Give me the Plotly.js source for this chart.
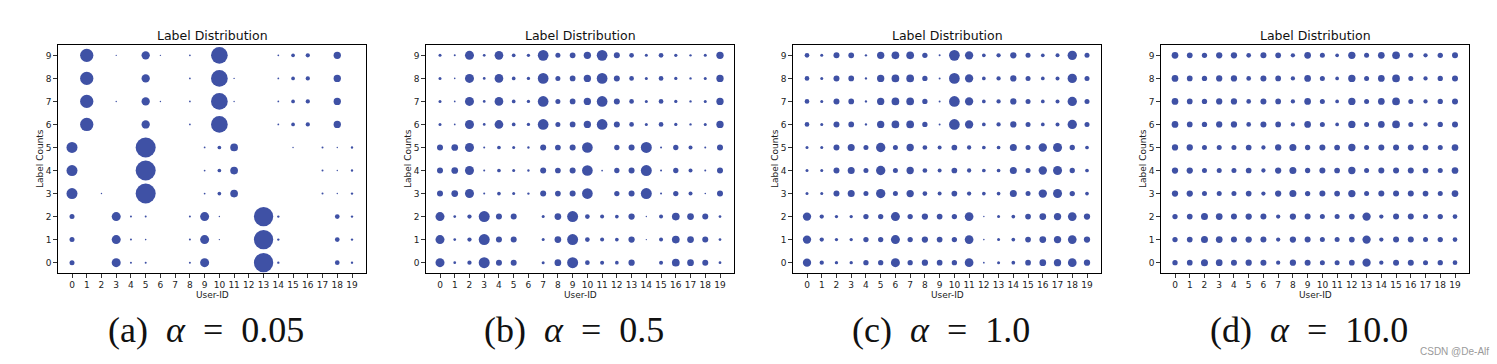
<!DOCTYPE html>
<html>
<head>
<meta charset="utf-8">
<script src="https://cdn.plot.ly/plotly-3.0.1.min.js"></script>
<style>html,body{margin:0;padding:0;background:#fff;}</style>
</head>
<body>
<div id="chart" style="width:1497px;height:364px;"></div>
<script>
// ---------------- data ----------------
const userIds = [0,1,2,3,4,5,6,7,8,9,10,11,12,13,14,15,16,17,18,19];
const labelIds = [0,1,2,3,4,5,6,7,8,9];
const panelTitle = 'Label Distribution';
const xTitle = 'User-ID';
const yTitle = 'Label Counts';
const captions = ['(a)', '(b)', '(c)', '(d)'];
const alphas = ['0.05', '0.5', '1.0', '10.0'];

// rows = label 0..9, columns = user 0..19 (estimated sample counts)
const countsA = [
  [50,0,0,162,8,8,0,0,8,162,0,0,0,745,11,0,0,0,44,11],
  [50,0,0,162,8,5,0,0,8,162,4,0,0,745,11,0,0,0,44,11],
  [50,0,0,162,8,8,0,0,8,162,4,0,0,745,11,0,0,0,44,11],
  [242,0,4,0,0,800,0,0,0,6,27,119,0,0,0,0,0,8,4,11],
  [242,0,0,0,0,800,0,0,0,6,27,119,0,0,0,0,0,8,4,11],
  [242,0,0,0,0,800,0,0,0,6,27,119,0,0,0,4,0,8,4,11],
  [0,354,0,0,0,138,0,0,6,0,558,0,0,0,6,27,37,0,107,0],
  [0,354,0,4,0,138,4,0,6,0,558,4,0,0,6,27,37,0,107,0],
  [0,354,0,0,0,138,0,0,6,0,558,4,0,0,6,27,37,0,107,0],
  [0,354,0,4,0,138,4,0,6,0,558,0,0,0,6,27,37,0,107,0]
];
const countsB = [
  [162,15,37,242,72,72,0,18,90,242,44,32,27,79,0,32,119,90,72,15],
  [162,15,37,242,72,72,0,18,90,242,44,32,27,79,4,32,119,90,72,15],
  [162,15,37,242,72,72,0,18,90,242,44,32,27,79,4,32,119,90,72,15],
  [72,90,162,8,27,18,11,72,65,72,229,0,56,72,242,8,56,32,5,72],
  [72,90,162,8,27,18,11,72,65,72,229,6,56,72,242,8,56,32,8,72],
  [72,90,162,8,27,18,11,72,65,72,229,0,56,72,242,8,56,32,8,72],
  [18,6,162,15,151,27,22,229,50,65,107,229,72,44,18,44,22,11,18,107],
  [18,6,162,15,151,27,22,229,50,65,107,229,72,44,18,44,22,11,18,107],
  [18,5,162,15,151,27,22,229,50,65,107,229,72,44,18,44,22,11,18,107],
  [18,8,162,15,151,27,22,229,50,65,107,229,72,44,18,44,22,11,18,107]
];
const countsC = [
  [138,37,22,22,56,56,162,56,79,65,56,151,6,18,27,65,90,107,151,79],
  [138,37,22,22,56,56,162,56,79,65,56,151,5,18,27,65,90,107,151,79],
  [138,37,22,22,56,56,162,56,79,65,56,151,4,18,27,65,90,107,151,79],
  [18,18,72,98,50,173,50,107,44,32,65,37,27,27,98,50,138,162,56,27],
  [18,18,72,98,50,173,50,107,44,32,65,37,27,27,98,50,138,162,56,27],
  [18,18,72,98,50,173,50,107,44,32,65,37,27,27,98,50,138,162,56,27],
  [44,18,72,65,11,107,119,119,56,8,229,138,27,37,79,50,27,32,173,50],
  [44,18,72,65,11,107,119,119,56,8,229,138,27,37,79,50,27,32,173,50],
  [44,18,72,65,11,107,119,119,56,8,229,138,27,37,79,50,27,32,173,50],
  [44,18,72,65,11,107,119,119,56,8,229,138,27,37,79,50,27,32,173,50]
];
const countsD = [
  [56,65,98,90,72,79,72,37,79,72,50,50,65,138,37,72,72,50,56,44],
  [56,65,98,90,72,79,72,37,79,72,50,50,65,138,37,72,72,50,56,44],
  [56,65,98,90,72,79,72,37,79,72,50,50,65,138,37,72,72,50,56,44],
  [79,79,50,50,50,65,37,79,98,56,72,65,107,50,72,72,72,65,50,90],
  [79,79,50,50,50,65,37,79,98,56,72,65,107,50,72,72,72,65,50,90],
  [79,79,50,50,50,65,37,79,98,56,72,65,107,50,72,72,72,65,50,90],
  [90,65,56,79,79,44,72,65,37,90,50,27,107,50,90,119,50,37,56,72],
  [90,65,56,79,79,44,72,65,37,90,50,27,107,50,90,119,50,37,56,72],
  [90,65,56,79,79,44,72,65,37,90,50,27,107,50,90,119,50,37,56,72],
  [90,65,56,79,79,44,72,65,37,90,50,27,107,50,90,119,50,37,56,72]
];

// ---------------- drawing ----------------
const panels = [countsA, countsB, countsC, countsD];
const W = 1497, H = 364;
const plotLeft = [58, 426, 793, 1161];
const plotW = 308;
const plotTop = 45, plotBottom = 273;
const px = v => v / W;
const py = v => 1 - v / H;
const dotColor = '#3f51a5';
const sansFont = 'DejaVu Sans, sans-serif';

const traces = [];
const layout = {
  width: W, height: H,
  margin: {l: 0, r: 0, t: 0, b: 0},
  paper_bgcolor: '#fff', plot_bgcolor: '#fff',
  showlegend: false,
  annotations: []
};

panels.forEach((m, p) => {
  const xs = [], ys = [], ss = [];
  labelIds.forEach((lab, r) => {
    userIds.forEach((u, c) => {
      const v = m[r][c];
      if (v > 0) { xs.push(u); ys.push(lab); ss.push(v); }
    });
  });
  const sfx = p === 0 ? '' : String(p + 1);
  traces.push({
    type: 'scatter', mode: 'markers',
    x: xs, y: ys,
    xaxis: 'x' + sfx, yaxis: 'y' + sfx,
    marker: {size: ss, sizemode: 'area', sizeref: 4, color: dotColor, opacity: 1, line: {width: 0}},
    hoverinfo: 'x+y'
  });
  const axCommon = {
    showgrid: false, zeroline: false,
    showline: true, mirror: true, linecolor: '#000', linewidth: 1.1,
    ticks: 'outside', ticklen: 3.5, tickwidth: 0.8, tickcolor: '#000',
    tickfont: {family: sansFont, size: 9, color: '#222'},
    fixedrange: true
  };
  layout['xaxis' + sfx] = Object.assign({}, axCommon, {
    domain: [px(plotLeft[p]), px(plotLeft[p] + plotW)],
    range: [-0.95, 19.95],
    tickvals: userIds, ticktext: userIds.map(String),
    anchor: 'y' + sfx
  });
  layout['yaxis' + sfx] = Object.assign({}, axCommon, {
    domain: [py(plotBottom), py(plotTop)],
    range: [-0.45, 9.45],
    tickvals: labelIds, ticktext: labelIds.map(String),
    anchor: 'x' + sfx
  });
  const cx = plotLeft[p] + plotW / 2;
  layout.annotations.push(
    {xref: 'paper', yref: 'paper', x: px(cx), y: py(35), xanchor: 'center', yanchor: 'middle',
     text: panelTitle, showarrow: false, font: {family: sansFont, size: 12.5, color: '#111'}},
    {xref: 'paper', yref: 'paper', x: px(cx), y: py(295), xanchor: 'center', yanchor: 'middle',
     text: xTitle, showarrow: false, font: {family: sansFont, size: 9, color: '#222'}},
    {xref: 'paper', yref: 'paper', x: px(plotLeft[p] - 18), y: py((plotTop + plotBottom) / 2),
     xanchor: 'center', yanchor: 'middle', textangle: -90,
     text: yTitle, showarrow: false, font: {family: sansFont, size: 9, color: '#222'}},
    {xref: 'paper', yref: 'paper', x: px(cx - 6), y: py(330), xanchor: 'center', yanchor: 'middle',
     text: captions[p] + '&nbsp;&nbsp;<i>α</i>&nbsp;&nbsp;=&nbsp;&nbsp;' + alphas[p],
     showarrow: false, font: {family: 'Liberation Serif, serif', size: 36, color: '#111'}}
  );
});

layout.annotations.push({
  xref: 'paper', yref: 'paper', x: px(1491), y: py(351), xanchor: 'right', yanchor: 'middle',
  text: 'CSDN @De-Alf', showarrow: false,
  font: {family: 'Liberation Sans, sans-serif', size: 10, color: '#9a9a9a'}
});

Plotly.newPlot('chart', traces, layout, {displayModeBar: false, staticPlot: true});
</script>
</body>
</html>
